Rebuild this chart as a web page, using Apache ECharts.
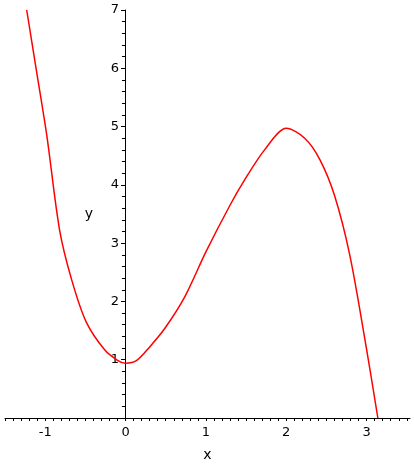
<!DOCTYPE html>
<html><head><meta charset="utf-8">
<script src="https://cdn.jsdelivr.net/npm/echarts@6/dist/echarts.min.js"></script>
<style>html,body{margin:0;background:#fff}#c{width:414px;height:467px}</style>
</head><body><div id="c"></div>
<script>
// points
var xs = [-1.23, -1.11, -0.98, -0.82, -0.67, -0.49, -0.26, -0.1, 0, 0.14, 0.3, 0.49, 0.73, 1.0, 1.3, 1.48, 1.73, 2.0, 2.23, 2.42, 2.6, 2.79, 2.98, 3.14];
var ys = [7, 5.97, 4.85, 3.22, 2.37, 1.65, 1.17, 0.99, 0.94, 0.99, 1.22, 1.54, 2.06, 2.85, 3.65, 4.08, 4.6, 4.97, 4.8, 4.43, 3.82, 2.8, 1.34, 0];
var pts = xs.map(function(x, i){ return [x, ys[i]]; });

var fnt = 'DejaVu Sans';
var myChart = echarts.init(document.getElementById('c'));
myChart.setOption({
  animation: false,
  grid: {left: 5, right: 4, top: 10, bottom: 49, containLabel: false, outerBoundsMode: 'none'},
  xAxis: {
    type: 'value', min: -1.5, max: 3.54, interval: 0.1,
    splitLine: {show: false},
    axisLine: {lineStyle: {color: '#000'}},
    axisTick: {length: 3, lineStyle: {color: '#000'}},
    axisLabel: {color: '#000', fontFamily: fnt, fontSize: 13, showMaxLabel: false,
      formatter: function(v){ var r = Math.round(v*10)/10; return (r === Math.round(r)) ? String(Math.round(r)) : ''; }},
    name: 'x', nameLocation: 'middle', nameGap: 30,
    nameTextStyle: {color: '#000', fontFamily: fnt, fontSize: 14}
  },
  yAxis: {
    type: 'value', min: 0, max: 7, interval: 1, offset: -120,
    splitLine: {show: false},
    minorTick: {show: true, splitNumber: 5, length: 3, lineStyle: {color: '#000'}},
    axisLine: {onZero: false, lineStyle: {color: '#000'}},
    axisTick: {length: 4, lineStyle: {color: '#000'}},
    axisLabel: {color: '#000', fontFamily: fnt, fontSize: 13, margin: 6,
      formatter: function(v){ return v === 0 ? '' : String(v); }},
    name: 'y', nameLocation: 'middle', nameGap: 32, nameRotate: 0,
    nameTextStyle: {color: '#000', fontFamily: fnt, fontSize: 14}
  },
  series: [{
    type: 'line', data: pts, smooth: 0.3, showSymbol: false,
    lineStyle: {color: '#ff0000', width: 1.5}
  }]
});
</script></body></html>
